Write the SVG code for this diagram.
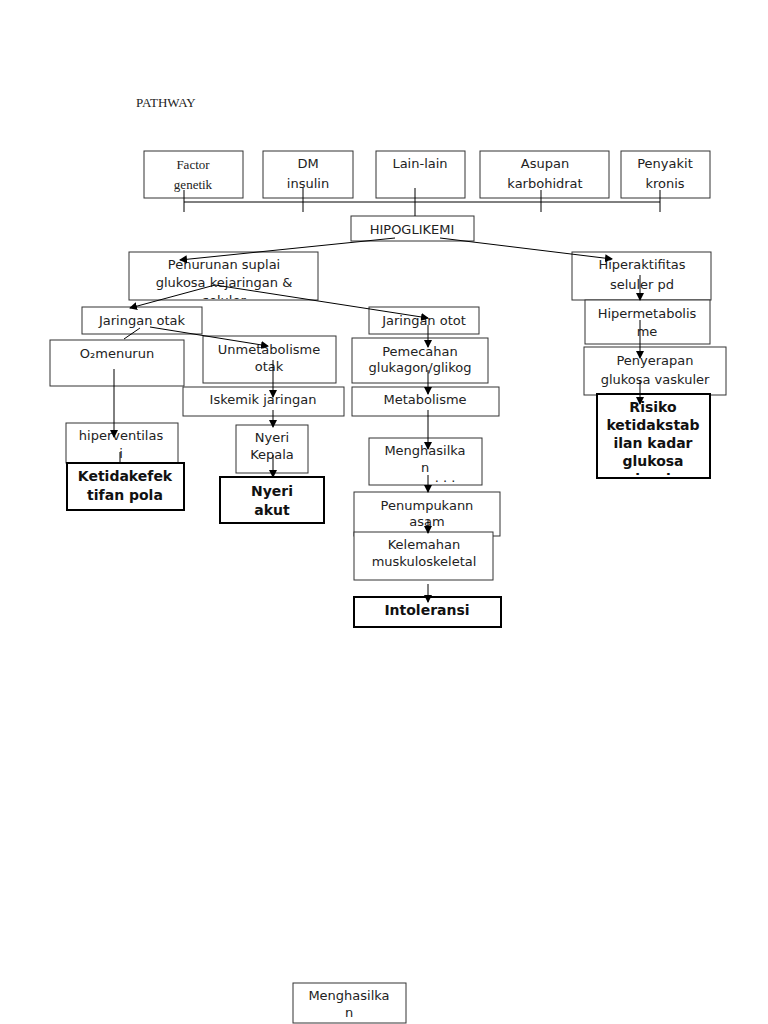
<svg xmlns="http://www.w3.org/2000/svg" width="768" height="1024" viewBox="0 0 768 1024">
<defs>
<style>
.b{fill:#fff;stroke:#333;stroke-width:1}
.k{fill:#fff;stroke:#000;stroke-width:2}
text{font-family:"DejaVu Sans",sans-serif;font-size:13px;fill:#222;text-anchor:middle}
.bt{font-weight:bold;fill:#111;font-size:14px}
.sf{font-family:"Liberation Serif",serif;font-size:13px}
.c line{stroke:#000;stroke-width:1}
.a{marker-end:url(#ar)}
</style>
<marker id="ar" markerWidth="8" markerHeight="8" refX="7" refY="4" orient="auto" markerUnits="userSpaceOnUse"><path d="M0,0 L8,4 L0,8z" fill="#000"/></marker>
<clipPath id="c1"><rect x="129" y="252" width="189" height="47"/></clipPath>
<clipPath id="c2"><rect x="597" y="394" width="113" height="81"/></clipPath>
</defs>
<text class="sf" x="136" y="107" style="text-anchor:start">PATHWAY</text>
<g id="n1"><rect class="b" x="144" y="151" width="99" height="47"/><text class="sf" x="193" y="169">Factor</text><text class="sf" x="193" y="189">genetik</text></g>
<g id="n2"><rect class="b" x="263" y="151" width="90" height="47"/><text x="308" y="168">DM</text><text x="308" y="188">insulin</text></g>
<g id="n3"><rect class="b" x="376" y="151" width="89" height="47"/><text x="420" y="168">Lain-lain</text></g>
<g id="n4"><rect class="b" x="480" y="151" width="129" height="47"/><text x="545" y="168">Asupan</text><text x="545" y="188">karbohidrat</text></g>
<g id="n5"><rect class="b" x="621" y="151" width="89" height="47"/><text x="665" y="168">Penyakit</text><text x="665" y="188">kronis</text></g>
<g id="n6"><rect class="b" x="351" y="216" width="123" height="25"/><text x="412" y="234">HIPOGLIKEMI</text></g>
<g id="n7"><rect class="b" x="129" y="252" width="189" height="48"/><g clip-path="url(#c1)"><text x="224" y="269">Penurunan suplai</text><text x="224" y="287">glukosa kejaringan &amp;</text><text x="224" y="305">seluler</text></g></g>
<g id="n8"><rect class="b" x="572" y="252" width="139" height="48"/><text x="642" y="269">Hiperaktifitas</text><text x="642" y="289">seluler pd</text></g>
<g id="n9"><rect class="b" x="82" y="307" width="120" height="27"/><text x="142" y="325">Jaringan otak</text></g>
<g id="n10"><rect class="b" x="369" y="307" width="110" height="27"/><text x="424" y="325">Jaringan otot</text></g>
<g id="n11"><rect class="b" x="585" y="300" width="125" height="44"/><text x="647" y="318">Hipermetabolis</text><text x="647" y="336">me</text></g>
<g id="n12"><rect class="b" x="50" y="340" width="134" height="46"/><text x="117" y="358">O₂menurun</text></g>
<g id="n13"><rect class="b" x="203" y="336" width="133" height="47"/><text x="269" y="354">Unmetabolisme</text><text x="269" y="371">otak</text></g>
<g id="n14"><rect class="b" x="352" y="338" width="136" height="45"/><text x="420" y="356">Pemecahan</text><text x="420" y="372">glukagon/glikog</text></g>
<g id="n15"><rect class="b" x="584" y="347" width="142" height="48"/><text x="655" y="365">Penyerapan</text><text x="655" y="384">glukosa vaskuler</text></g>
<g id="n16"><rect class="b" x="183" y="387" width="161" height="29"/><text x="263" y="404">Iskemik jaringan</text></g>
<g id="n17"><rect class="b" x="352" y="387" width="147" height="29"/><text x="425" y="404">Metabolisme</text></g>
<g id="n18"><rect class="k" x="597" y="394" width="113" height="84"/><g clip-path="url(#c2)"><text class="bt" x="653" y="412">Risiko</text><text class="bt" x="653" y="430">ketidakstab</text><text class="bt" x="653" y="448">ilan kadar</text><text class="bt" x="653" y="466">glukosa</text><text class="bt" x="653" y="484">darah</text></g></g>
<g id="n19"><rect class="b" x="66" y="423" width="112" height="40"/><text x="121" y="440">hiperventilas</text><text x="121" y="458">i</text></g>
<g id="n20"><rect class="b" x="236" y="425" width="72" height="48"/><text x="272" y="442">Nyeri</text><text x="272" y="459">Kepala</text></g>
<g id="n21"><rect class="b" x="369" y="438" width="113" height="47"/><text x="425" y="455">Menghasilka</text><text x="425" y="472">n</text><text x="445" y="482">. . .</text></g>
<g id="n22"><rect class="k" x="67" y="463" width="117" height="47"/><text class="bt" x="125" y="481">Ketidakefek</text><text class="bt" x="125" y="500">tifan pola</text></g>
<g id="n23"><rect class="k" x="220" y="477" width="104" height="46"/><text class="bt" x="272" y="496">Nyeri</text><text class="bt" x="272" y="515">akut</text></g>
<g id="n24"><rect class="b" x="354" y="492" width="146" height="44"/><text x="427" y="510">Penumpukann</text><text x="427" y="526">asam</text></g>
<g id="n25"><rect class="b" x="354" y="532" width="139" height="48"/><text x="424" y="549">Kelemahan</text><text x="424" y="566">muskuloskeletal</text></g>
<g id="n26"><rect class="k" x="354" y="597" width="147" height="30"/><text class="bt" x="427" y="615">Intoleransi</text></g>
<g id="n27"><rect class="b" x="293" y="983" width="113" height="40"/><text x="349" y="1000">Menghasilka</text><text x="349" y="1017">n</text></g>
<g class="c">
<line x1="184" y1="202" x2="660" y2="202"/>
<line x1="184" y1="190" x2="184" y2="212"/><line x1="303" y1="188" x2="303" y2="212"/><line x1="415" y1="188" x2="415" y2="216"/><line x1="541" y1="190" x2="541" y2="212"/><line x1="660" y1="190" x2="660" y2="212"/>
<line class="a" x1="395" y1="238" x2="180" y2="260"/>
<line class="a" x1="440" y1="238" x2="612" y2="259"/>
<line class="a" x1="215" y1="285" x2="130" y2="308"/>
<line class="a" x1="215" y1="285" x2="428" y2="318"/>
<line x1="140" y1="328" x2="124" y2="339"/>
<line class="a" x1="150" y1="327" x2="268" y2="346"/>
<line class="a" x1="114" y1="369" x2="114" y2="437"/>
<line x1="120" y1="452" x2="120" y2="463"/>
<line class="a" x1="273" y1="360" x2="273" y2="397"/>
<line class="a" x1="273" y1="410" x2="273" y2="427"/>
<line class="a" x1="273" y1="455" x2="273" y2="477"/>
<line class="a" x1="428" y1="325" x2="428" y2="347"/>
<line class="a" x1="428" y1="370" x2="428" y2="394"/>
<line class="a" x1="428" y1="410" x2="428" y2="449"/>
<line class="a" x1="428" y1="475" x2="428" y2="492"/>
<line class="a" x1="428" y1="520" x2="428" y2="533"/>
<line class="a" x1="428" y1="584" x2="428" y2="602"/>
<line class="a" x1="640" y1="275" x2="640" y2="300"/>
<line class="a" x1="640" y1="320" x2="640" y2="358"/>
<line class="a" x1="640" y1="380" x2="640" y2="404"/>
</g>
</svg>
